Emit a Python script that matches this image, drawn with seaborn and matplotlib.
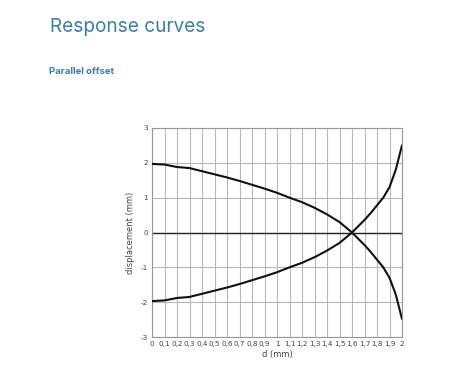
import numpy as np
import pandas as pd
import matplotlib
matplotlib.use("Agg")
import matplotlib.pyplot as plt
import seaborn as sns

d_mm = [0.0, 0.1, 0.2, 0.3, 0.4, 0.5, 0.6, 0.7, 0.8, 0.9, 1.0,
        1.1, 1.2, 1.3, 1.4, 1.5, 1.6, 1.7, 1.75, 1.8, 1.85, 1.9, 1.95, 2.0]
upper = [1.97, 1.95, 1.88, 1.85, 1.76, 1.67, 1.58, 1.48, 1.37, 1.26, 1.14,
         1.00, 0.87, 0.71, 0.52, 0.30, 0.00, -0.36, -0.56, -0.78, -1.00, -1.30, -1.78, -2.48]
lower = [-1.97, -1.95, -1.88, -1.85, -1.76, -1.67, -1.58, -1.48, -1.37, -1.26, -1.14,
         -1.00, -0.87, -0.71, -0.52, -0.30, 0.00, 0.36, 0.56, 0.78, 1.00, 1.30, 1.80, 2.50]
x_ticks = [0.0, 0.1, 0.2, 0.3, 0.4, 0.5, 0.6, 0.7, 0.8, 0.9, 1.0,
           1.1, 1.2, 1.3, 1.4, 1.5, 1.6, 1.7, 1.8, 1.9, 2.0]
x_ticklabels = ["0", "0,1", "0,2", "0,3", "0,4", "0,5", "0,6", "0,7", "0,8", "0,9", "1",
                "1,1", "1,2", "1,3", "1,4", "1,5", "1,6", "1,7", "1,8", "1,9", "2"]
y_ticks = [-3, -2, -1, 0, 1, 2, 3]
y_ticklabels = ["-3", "-2", "-1", "0", "1", "2", "3"]

sns.set_style("white")
plt.rcParams['font.family'] = ['DejaVu Sans']
plt.rcParams['axes.unicode_minus'] = False

df = pd.concat([
    pd.DataFrame({"d": d_mm, "disp": upper, "curve": "upper"}),
    pd.DataFrame({"d": d_mm, "disp": lower, "curve": "lower"}),
])

fig = plt.figure(figsize=(4.74, 3.90), dpi=100)
ax = fig.add_axes([152/474, 1-337/390, 250/474, 209/390])

ax.set_xticks(x_ticks)
ax.set_yticks(y_ticks)
ax.grid(True, color="#b8b8b8", linewidth=0.8)
ax.set_axisbelow(True)
ax.axhline(0, color="#222222", linewidth=1.0, zorder=2)

sns.lineplot(data=df, x="d", y="disp", units="curve", estimator=None,
             color="#111111", linewidth=1.5, ax=ax, zorder=3)

ax.set_xlim(0, 2)
ax.set_ylim(-3, 3)
ax.set_xticklabels(x_ticklabels)
ax.set_yticklabels(y_ticklabels)
ax.tick_params(axis="both", labelsize=5.2, colors="#444444", length=0, pad=3)
for s in ax.spines.values():
    s.set_color("#999999")
    s.set_linewidth(0.8)
ax.set_xlabel("d (mm)", fontsize=6, color="#444444", labelpad=2)
ax.set_ylabel("displacement (mm)", fontsize=6, color="#444444", labelpad=4)

fig.text(50/474, 1-27/390, "Response curves", fontsize=13.7, color="#3a7fa8",
         family="Inter", fontweight="normal", va="center", ha="left")
fig.text(49/474, 1-72/390, "Parallel offset", fontsize=6.9, color="#3a7fa8",
         family="Inter", fontweight="bold", va="center", ha="left")

fig.savefig("out.png", dpi=100)
